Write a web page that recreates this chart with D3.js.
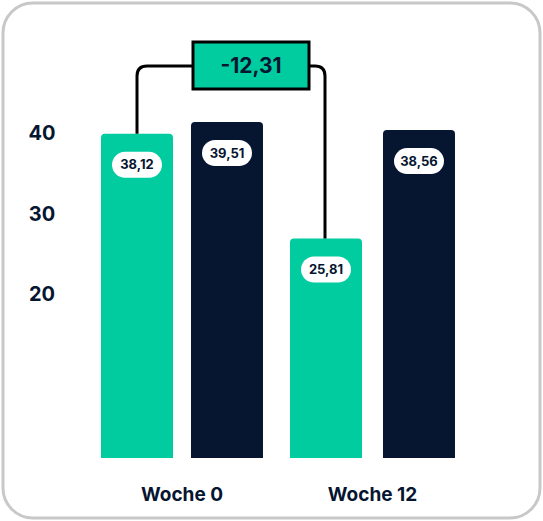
<!DOCTYPE html><html><head><meta charset="utf-8">
<script src="https://cdn.jsdelivr.net/npm/d3@7"></script>
<style>body{margin:0;background:#fff}svg{font-family:Inter,"Noto Sans",sans-serif}</style></head><body>
<svg id="c" width="543" height="521"></svg>
<script>
const groups=["Woche 0","Woche 12"];
const series=["A","B"];
const values=[[38.12,39.51],[25.81,38.56]];
const labels=[["38,12","39,51"],["25,81","38,56"]];
const ticks=[20,30,40];
const diffLabel="-12,31";
const colors=["#00CC9F","#061530"];
const svg=d3.select("#c");
svg.append("rect").attr("x",3).attr("y",3).attr("width",537).attr("height",515).attr("rx",30).attr("fill","#fff").attr("stroke","#c8c8c8").attr("stroke-width",3);
const y=d3.scaleLinear().domain([0,39.51]).range([458,122]);
const ya=d3.scaleLinear().domain([20,40]).range([294,133]);
const x0=d3.scaleBand().domain(groups).range([92,470]).paddingInner(0).paddingOuter(0);
const x1=d3.scaleBand().domain(series).range([9,171]).padding(0);
ticks.forEach(t=>svg.append("text").attr("x",42).attr("y",ya(t)).attr("dy","0.35em").attr("text-anchor","middle").attr("font-weight",700).attr("font-size",20).attr("fill","#061530").text(t));
const bw=72;
function bx(g,s){return x0(groups[g])+ (s===0?9:99) + (g===1? 0:0);}
const pos=[[101,191],[290,383]];
groups.forEach((g,gi)=>series.forEach((s,si)=>{
 const v=values[gi][si],X=pos[gi][si],Y=y(v),r=4;
 svg.append("path").attr("d",`M${X},458V${Y+r}Q${X},${Y} ${X+r},${Y}H${X+bw-r}Q${X+bw},${Y} ${X+bw},${Y+r}V458Z`).attr("fill",colors[si]);
 svg.append("rect").attr("x",X+11).attr("y",Y+18).attr("width",50).attr("height",26).attr("rx",13).attr("fill","#fff");
 svg.append("text").attr("x",X+36).attr("y",Y+31).attr("dy","0.35em").attr("text-anchor","middle").attr("font-weight",700).attr("font-size",13).attr("fill","#061530").text(labels[gi][si]);
}));
groups.forEach((g,gi)=>svg.append("text").attr("x",(pos[gi][0]+pos[gi][1]+bw)/2).attr("y",494).attr("dy","0.35em").attr("text-anchor","middle").attr("font-weight",700).attr("font-size",19).attr("fill","#061530").text(g));
const ax=pos[0][0]+bw/2, bxx=pos[1][0]+bw/2+(-1), ly=66, rr=10;
svg.append("path").attr("d",`M${ax},${y(values[0][0])}V${ly+rr}Q${ax},${ly} ${ax+rr},${ly}H${bxx-rr}Q${bxx},${ly} ${bxx},${ly+rr}V${y(values[1][0])}`).attr("fill","none").attr("stroke","#000").attr("stroke-width",3);
svg.append("rect").attr("x",193).attr("y",42).attr("width",116).attr("height",47).attr("fill","#00CC9F").attr("stroke","#000").attr("stroke-width",3);
svg.append("text").attr("x",251).attr("y",66).attr("dy","0.35em").attr("text-anchor","middle").attr("font-weight",700).attr("font-size",21).attr("fill","#061530").text(diffLabel);
</script></body></html>
